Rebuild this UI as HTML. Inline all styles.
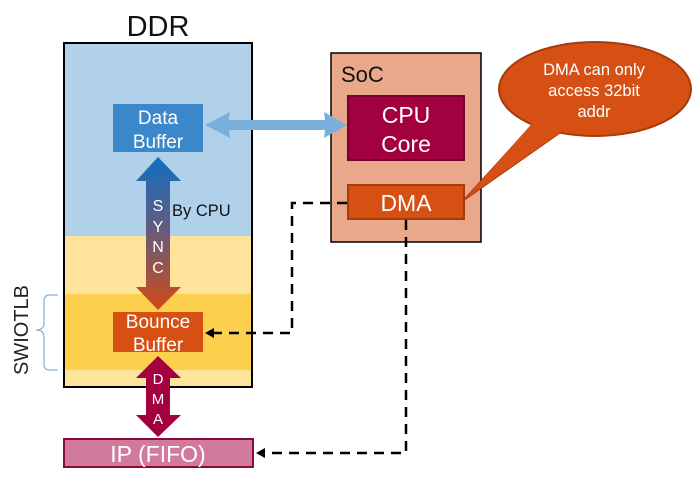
<!DOCTYPE html>
<html><head><meta charset="utf-8"><style>
html,body{margin:0;padding:0;background:#fff;}
svg{display:block;font-family:"Liberation Sans",Arial,sans-serif;}
</style></head><body>
<svg width="698" height="478" viewBox="0 0 698 478" xmlns="http://www.w3.org/2000/svg">
<defs>
<linearGradient id="sg" x1="0" y1="0" x2="0" y2="1">
<stop offset="0" stop-color="#0f6fc4"/>
<stop offset="0.5" stop-color="#6a5a78"/>
<stop offset="1" stop-color="#d04a18"/>
</linearGradient>
</defs>
<text x="158" y="36" font-size="29" text-anchor="middle" fill="#111">DDR</text>
<rect x="64" y="43" width="188" height="193" fill="#b1d1ea"/>
<rect x="64" y="236" width="188" height="58" fill="#fee49a"/>
<rect x="64" y="294" width="188" height="76" fill="#fcd04d"/>
<rect x="64" y="370" width="188" height="17" fill="#fee49a"/>
<rect x="64" y="43" width="188" height="344" fill="none" stroke="#000" stroke-width="2"/>
<rect x="113" y="104" width="90" height="48" fill="#3a87c9"/>
<text x="158" y="124" font-size="19" fill="#fff" text-anchor="middle">Data</text>
<text x="158" y="148" font-size="19" fill="#fff" text-anchor="middle">Buffer</text>
<polygon points="158,157 181,181 170,181 170,287 181,287 158,310 136,287 146,287 146,181 136,181" fill="url(#sg)"/>
<g font-size="16" fill="#fff" text-anchor="middle">
<text x="158" y="211">S</text><text x="158" y="232">Y</text><text x="158" y="252">N</text><text x="158" y="273">C</text>
</g>
<text x="172" y="216" font-size="16.5" fill="#111">By CPU</text>
<rect x="113" y="312" width="90" height="40" fill="#d55012"/>
<text x="158" y="328" font-size="19" fill="#fff" text-anchor="middle">Bounce</text>
<text x="158" y="351" font-size="19" fill="#fff" text-anchor="middle">Buffer</text>
<polygon points="158,356 181,378 170,378 170,415 181,415 158,437 136,415 146,415 146,378 136,378" fill="#a3003f"/>
<g font-size="15" fill="#fff" text-anchor="middle">
<text x="158" y="384">D</text><text x="158" y="404">M</text><text x="158" y="424">A</text>
</g>
<rect x="64" y="439" width="189" height="28" fill="#d17a9c" stroke="#8b0a3c" stroke-width="2"/>
<text x="158" y="462" font-size="23" fill="#fff" text-anchor="middle">IP (FIFO)</text>
<path d="M58,295 H50 Q44,295 44,301 V323 Q44,330 36,330 Q44,330 44,337 V364 Q44,370 50,370 H58" fill="none" stroke="#7fb0dc" stroke-width="1.2"/>
<text x="0" y="0" font-size="20" fill="#222" text-anchor="middle" transform="translate(28,330) rotate(-90)">SWIOTLB</text>
<rect x="331" y="53" width="150" height="189" fill="#e9a88a" stroke="#000" stroke-width="1.5"/>
<text x="341" y="82" font-size="22" fill="#111">SoC</text>
<rect x="348" y="96" width="116" height="64" fill="#a3003f" stroke="#7a0030" stroke-width="2"/>
<text x="406" y="123" font-size="23" fill="#fff" text-anchor="middle">CPU</text>
<text x="406" y="152" font-size="23" fill="#fff" text-anchor="middle">Core</text>
<rect x="348" y="185" width="116" height="34" fill="#d55012" stroke="#a53a0a" stroke-width="2"/>
<text x="406" y="211" font-size="23" fill="#fff" text-anchor="middle">DMA</text>
<polygon points="205,125 230,112 229,120 325,120 324,112 347,125 324,138 325,130 229,130 230,138" fill="#7aaedb"/>
<ellipse cx="595" cy="89" rx="96" ry="47" fill="#d55012" stroke="#a53a0a" stroke-width="2"/>
<polyline points="537,120 465,199 562,131" fill="none" stroke="#a53a0a" stroke-width="2"/>
<polygon points="465,199 536,119 564,130" fill="#d55012"/>
<g font-size="16.5" fill="#fff" text-anchor="middle">
<text x="594" y="75">DMA can only</text>
<text x="594" y="96">access 32bit</text>
<text x="594" y="117">addr</text>
</g>
<g fill="none" stroke="#000" stroke-width="2.5" stroke-dasharray="10,7">
<path d="M347,203 H292 V333 H214"/>
<path d="M406,220 V453 H266"/>
</g>
<polygon points="205,333 214,328 214,338" fill="#000"/>
<polygon points="256,453 265,448 265,458" fill="#000"/>
</svg>
</body></html>
